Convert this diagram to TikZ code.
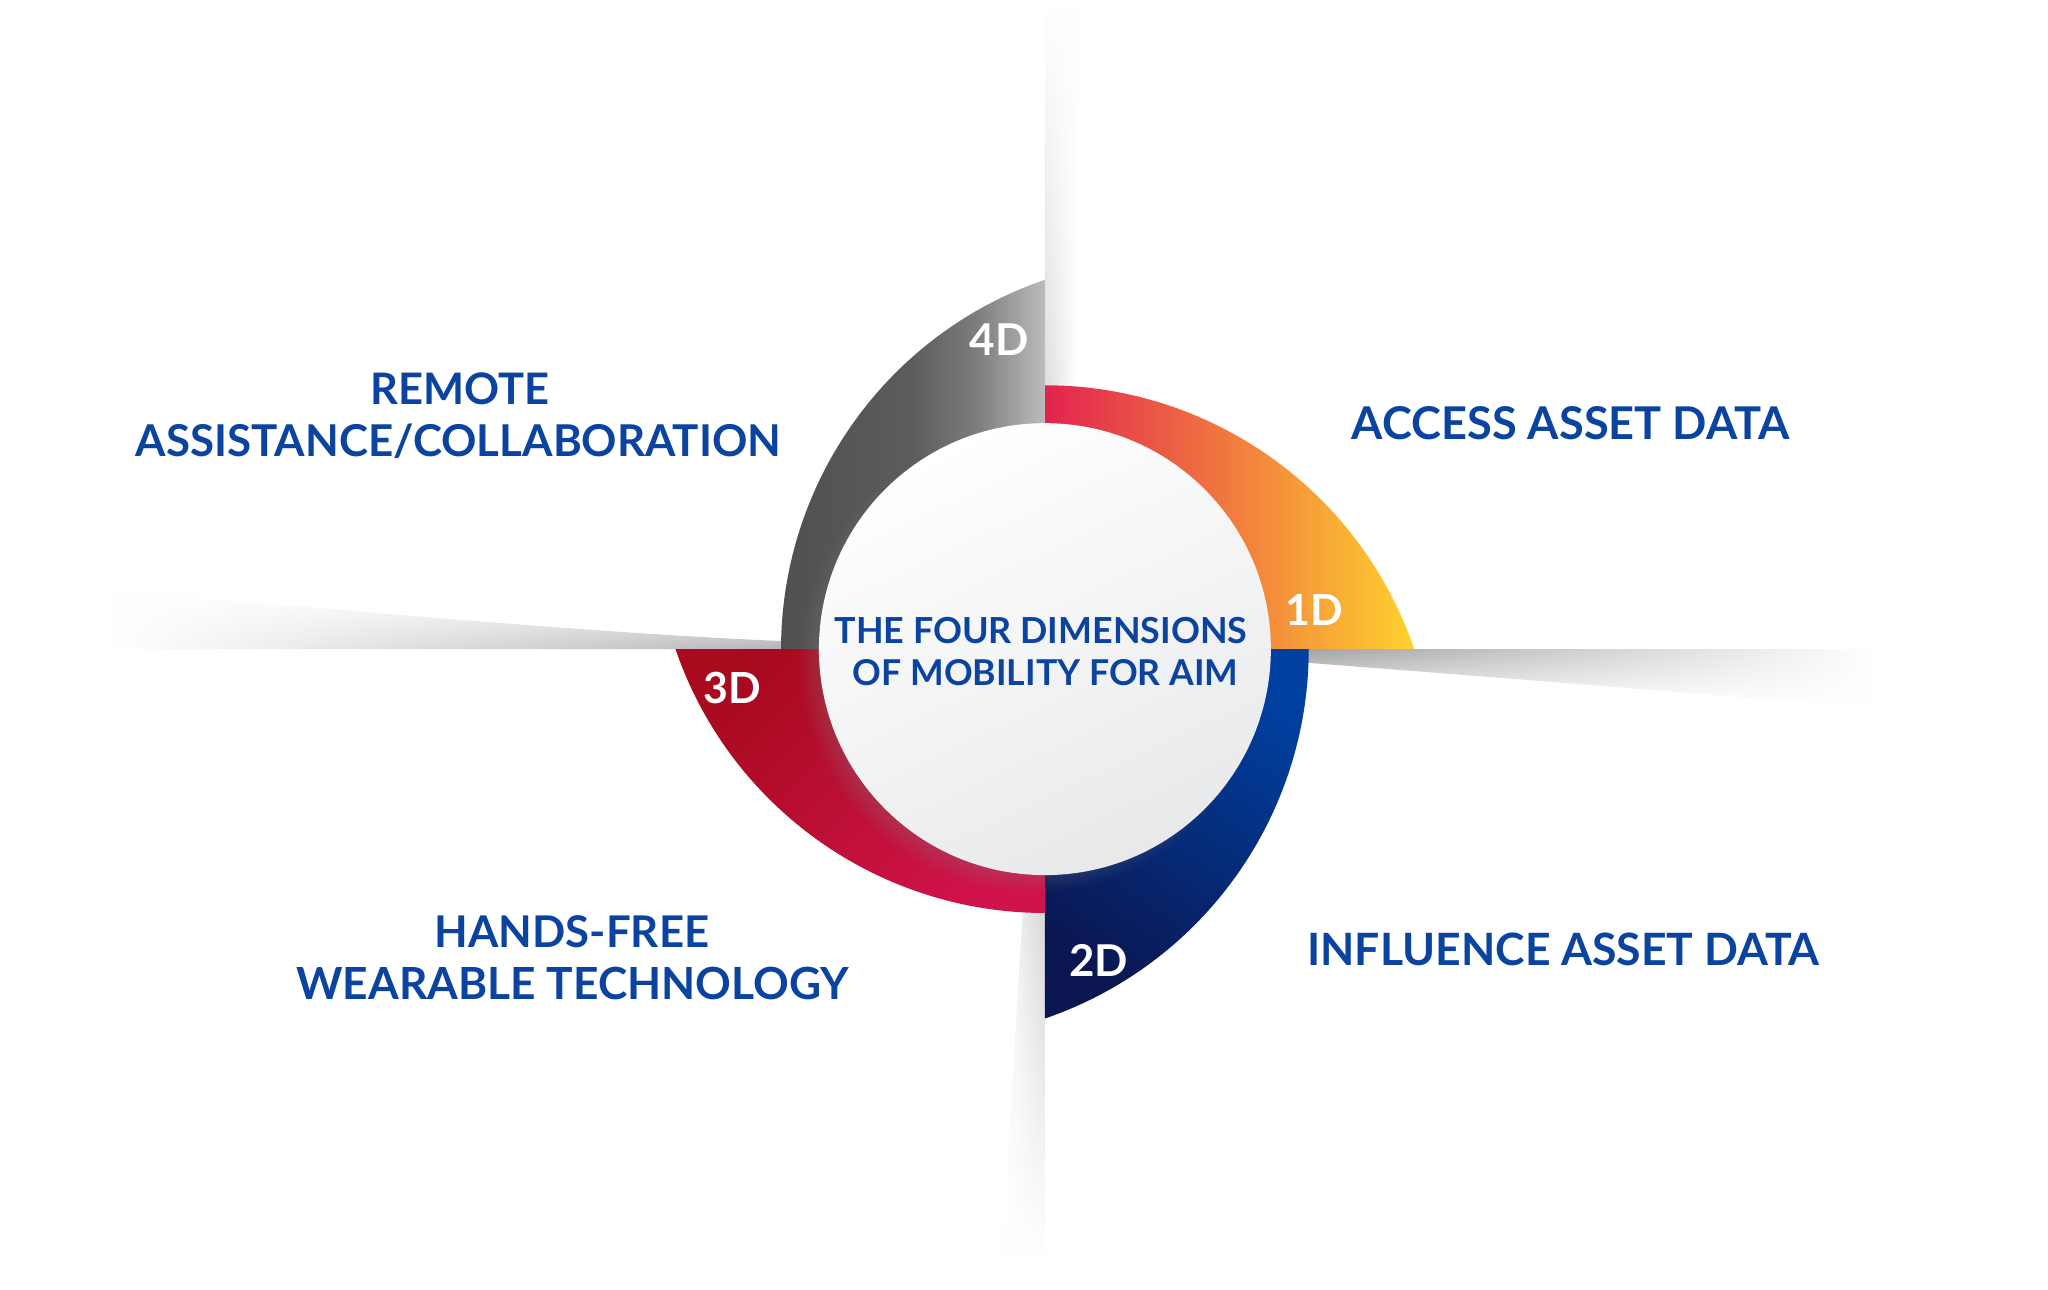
\documentclass[tikz,border=0pt]{standalone}
\usepackage{fontspec}
\setmainfont{Lato}
\usetikzlibrary{shadows,fadings}
\definecolor{txtblue}{RGB}{10,67,160}
\definecolor{oneA}{RGB}{226,35,79}
\definecolor{oneB}{RGB}{241,122,62}
\definecolor{oneC}{RGB}{255,210,46}
\definecolor{twoA}{RGB}{0,64,160}
\definecolor{twoB}{RGB}{11,22,80}
\definecolor{thrA}{RGB}{168,10,30}
\definecolor{thrB}{RGB}{208,19,74}
\definecolor{fouA}{RGB}{80,80,80}
\definecolor{fouA2}{RGB}{92,92,92}
\definecolor{fouB}{RGB}{125,125,125}
\definecolor{fouC}{RGB}{188,188,188}
\definecolor{shgray}{RGB}{180,181,184}
\definecolor{circgray}{RGB}{232,233,235}
\pgfdeclarehorizontalshading{fourshade}{100bp}{color(0bp)=(fouA); color(25bp)=(fouA); color(50bp)=(fouA2); color(62bp)=(fouB); color(75bp)=(fouC); color(100bp)=(fouC)}
\tikzfading[name=fadeW, left color=transparent!100, middle color=transparent!35, right color=transparent!0]
\tikzfading[name=fadeE, left color=transparent!0, middle color=transparent!35, right color=transparent!100]
\tikzfading[name=fadeN, top color=transparent!100, bottom color=transparent!0]
\tikzfading[name=fadeS, top color=transparent!0, bottom color=transparent!100]
\newcommand{\fitw}[2]{\resizebox{#1pt}{!}{#2}}
\tikzset{
  label/.style={inner sep=0pt, text=txtblue, font=\bfseries},
  dlabel/.style={inner sep=0pt, text=white, font=\bfseries},
}
\begin{document}
\begin{tikzpicture}[x=1pt,y=1pt]
\fill[white] (-800,-490.65) rectangle (768,497);
\useasboundingbox (-800,-490.65) rectangle (768,497);
% fold shadows
\shade[top color=white, bottom color=shgray, path fading=fadeW]
  (-712,0) -- (-712,45) .. controls (-450,22) and (-300,10) .. (-195,6) -- (-195,0) -- cycle;
\shade[top color=shgray!90!black, bottom color=white, path fading=fadeE]
  (195,0) -- (635,0) -- (635,-45) .. controls (450,-30) and (300,-18) .. (195,-10) -- cycle;
\shade[left color=shgray!45, right color=white, path fading=fadeN]
  (0,200) -- (0,493) -- (25,493) -- (25,200) -- cycle;
\shade[left color=white, right color=shgray!55, path fading=fadeS]
  (0,-200) -- (0,-466) -- (-33,-466) -- (-17,-200) -- cycle;
% bands
\shade[left color=oneA, middle color=oneB, right color=oneC]
  (0,0) -- (0,202) arc[start angle=90, end angle=18.92, radius=299] -- cycle;
\shade[top color=twoA, bottom color=twoB, shading angle=-35]
  (0,0) -- (202,0) arc[start angle=0, end angle=-71.08, radius=299] -- cycle;
\shade[top color=thrA, bottom color=thrB, shading angle=45]
  (0,0) -- (0,-202) arc[start angle=-90, end angle=-161.08, radius=299] -- cycle;
\shade[shading=fourshade]
  (0,0) -- (-202,0) arc[start angle=180, end angle=108.92, radius=299] -- cycle;
% centre disc
\node (core) [circle, minimum size=346pt, inner sep=0pt,
  top color=white, bottom color=circgray, shading angle=25,
  circular drop shadow={shadow scale=1.03, shadow xshift=-10pt, shadow yshift=-8pt, opacity=0.4}] at (0,0) {};
\node (title1) [label] at (-3,14) {\fitw{316}{THE FOUR DIMENSIONS}};
\node (title2) [label] at (0.5,-18) {\fitw{295}{OF MOBILITY FOR AIM}};
% dimension labels
\node (d4) [dlabel] at (-35,237) {\fitw{45}{4D}};
\node (d1) [dlabel] at (206,30) {\fitw{44}{1D}};
\node (d3) [dlabel] at (-239,-30) {\fitw{44}{3D}};
\node (d2) [dlabel] at (41,-238) {\fitw{45}{2D}};
% quadrant texts
\node (remote1) [label] at (-448,199) {\fitw{137}{REMOTE}};
\node (remote2) [label] at (-449,159) {\fitw{494}{ASSISTANCE/COLLABORATION}};
\node (access) [label] at (402.5,173) {\fitw{335}{ACCESS ASSET DATA}};
\node (influence) [label] at (397,-230) {\fitw{392}{INFLUENCE ASSET DATA}};
\node (hands1) [label] at (-362,-216) {\fitw{210}{HANDS-FREE}};
\node (hands2) [label] at (-361.5,-256) {\fitw{423}{WEARABLE TECHNOLOGY}};
\end{tikzpicture}
\end{document}
